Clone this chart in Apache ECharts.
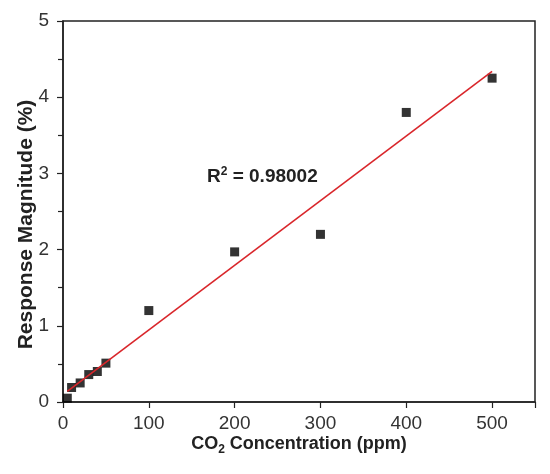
<!DOCTYPE html>
<html>
<head>
<meta charset="utf-8">
<script src="https://cdn.jsdelivr.net/npm/echarts@6/dist/echarts.min.js"></script>
<style>
  html, body { margin: 0; padding: 0; background: #fff; }
  #main { width: 550px; height: 474px; }
</style>
</head>
<body>
<div id="main"></div>
<script>
// 测量数据
var concentration = [5, 10, 20, 30, 40, 50, 100, 200, 300, 400, 500];
var response = [0.05, 0.19, 0.25, 0.36, 0.4, 0.51, 1.2, 1.97, 2.2, 3.8, 4.25];
// 拟合线两端
var fitX = [5, 500];
var fitY = [0.14, 4.34];
var r2Text = '0.98002';

var chart = echarts.init(document.getElementById('main'));

var points = concentration.map(function (c, i) { return [c, response[i]]; });
var fitLine = fitX.map(function (x, i) { return [x, fitY[i]]; });

var FONT = 'Liberation Sans, Arial';
var axisLine = { show: true, onZero: false, lineStyle: { color: '#222', width: 1.5 } };
var axisTick = { show: true, inside: false, length: 6, lineStyle: { color: '#222', width: 1.2 } };
var axisLabel = { color: '#333', fontSize: 19, fontFamily: FONT };

var option = {
  backgroundColor: '#fff',
  animation: false,
  grid: {
    left: 63, right: 15, top: 21, bottom: 72,
    show: true, borderColor: '#222', borderWidth: 1.5
  },
  xAxis: {
    type: 'value',
    min: 0, max: 550, interval: 100,
    axisLine: axisLine,
    axisTick: axisTick,
    splitLine: { show: false },
    axisLabel: Object.assign({}, axisLabel, {
      margin: 12,
      formatter: function (v) { return v > 500 ? '' : v; }
    }),
    name: '{b|CO}{s|2}{b| Concentration (ppm)}',
    nameLocation: 'middle',
    nameGap: 30,
    nameMoveOverlap: false,
    nameTextStyle: {
      rich: {
        b: { fontSize: 18, fontWeight: 'bold', color: '#222', fontFamily: FONT },
        s: { fontSize: 12, fontWeight: 'bold', color: '#222', fontFamily: FONT, padding: [12, 0, 0, 0] }
      }
    }
  },
  yAxis: {
    type: 'value',
    min: 0, max: 5, interval: 1,
    axisLine: axisLine,
    axisTick: axisTick,
    minorTick: { show: true, splitNumber: 2, length: 5, lineStyle: { color: '#222', width: 1.2 } },
    splitLine: { show: false },
    axisLabel: Object.assign({}, axisLabel, { margin: 14 }),
    name: 'Response Magnitude (%)',
    nameLocation: 'middle',
    nameGap: 26,
    nameMoveOverlap: false,
    nameTextStyle: {
      color: '#222', fontSize: 21, fontWeight: 'bold', fontFamily: FONT,
      padding: [0, 26, 0, 0]
    }
  },
  graphic: [{
    type: 'text',
    left: 207, top: 166,
    style: {
      text: '{b|R}{s|2}{b| = ' + r2Text + '}',
      rich: {
        b: { fontSize: 19, fontWeight: 'bold', fill: '#222', fontFamily: FONT },
        s: { fontSize: 12, fontWeight: 'bold', fill: '#222', fontFamily: FONT, padding: [0, 0, 9, 0] }
      }
    }
  }],
  series: [{
    name: '拟合',
    type: 'line',
    data: fitLine,
    symbol: 'none',
    lineStyle: { color: '#d9262b', width: 1.6 },
    z: 3
  }, {
    name: '数据',
    type: 'scatter',
    data: points,
    symbol: 'rect',
    symbolSize: 9,
    itemStyle: { color: '#000' },
    z: 2
  }]
};
chart.setOption(option);
</script>
</body>
</html>
